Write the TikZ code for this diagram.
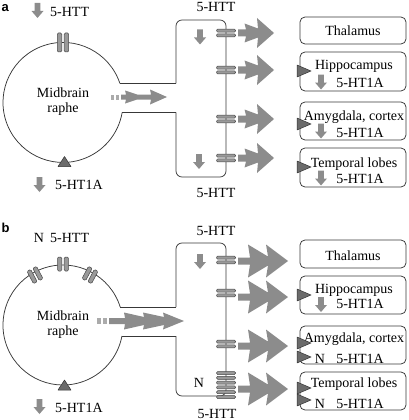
\documentclass[tikz,border=0pt]{standalone}
\usepackage{fontspec}
\setmainfont{Liberation Serif}
\newfontfamily\panelfont{Liberation Sans}
\tikzset{
  memb/.style={draw=black!78, line width=0.75pt},
  region/.style={draw=black!78, line width=0.75pt, rounded corners=5pt, inner sep=0pt},
  txt/.style={font=\fontsize{14}{16}\selectfont, inner sep=0pt, anchor=base},
  txtw/.style={font=\fontsize{14}{16}\selectfont, inner sep=0pt, anchor=base west},
  lbl/.style={font=\panelfont\bfseries\fontsize{13}{15}\selectfont, inner sep=0pt, anchor=base west},
  gfill/.style={fill=black!45, draw=none},
  dfill/.style={fill=black!33, draw=none},
  tbar/.style={fill=black!40, draw=black!72, line width=0.5pt, rounded corners=1.2pt},
  rcpt/.style={fill=black!58, draw=black!80, line width=0.5pt, line join=round},
  dnarrow/.pic={\path[gfill] (-2.8,-7.5) -- (2.8,-7.5) -- (2.8,0.5) -- (6,0.5) -- (0,7.5) -- (-6,0.5) -- (-2.8,0.5) -- cycle;},
  hpair/.pic={\path[tbar] (-9.5,-3.9) rectangle (9.5,-0.9); \path[tbar] (-9.5,0.9) rectangle (9.5,3.9);},
  hbar/.pic={\path[tbar] (-9.5,-1.5) rectangle (9.5,1.5);},
  vpairA/.pic={\path[tbar] (-5.6,-9.5) rectangle (-1.2,9.5); \path[tbar] (1.2,-9.5) rectangle (5.6,9.5);},
  vpairB/.pic={\path[tbar] (-5.4,-7) rectangle (-1.2,7); \path[tbar] (1.2,-7) rectangle (5.4,7);},
  rtri/.pic={\path[rcpt] (0,-6) -- (14,0) -- (0,6) -- cycle;},
  utri/.pic={\path[rcpt] (-6.5,5) -- (0,-5) -- (6.5,5) -- cycle;},
  bigA/.pic={\path[gfill] (0,-3.5) -- (8,-3.5) -- (6.5,-9.5) -- (20,-4.5) -- (19,-15) -- (36,0) -- (19,15) -- (20,4.5) -- (6.5,9.5) -- (8,3.5) -- (0,3.5) -- cycle;},
  bigB/.pic={\path[gfill] (0,-3.5) -- (12,-3.5) -- (10,-16.5) -- (30,-4.5) -- (28,-16.5) -- (50,0) -- (28,16.5) -- (30,4.5) -- (10,16.5) -- (12,3.5) -- (0,3.5) -- cycle;},
}
\begin{document}
\begin{tikzpicture}[x=1pt,y=-1pt]
\useasboundingbox (0,0) rectangle (408,420);

% ================= panel a =================
\node[lbl] (la) at (1.5,12) {a};
\pic at (37.5,10.5) {dnarrow};
\node[txtw] (aHTTtl) at (50,17) {5-HTT};

% raphe neuron membrane
\draw[memb] (119.9,83.4) arc[start angle=18.5, end angle=350.4, radius=60pt];
\draw[memb] (119.9,83.4) -- (176,83.4);
\draw[memb] (122.2,112.4) -- (176,112.4);
\draw[memb, rounded corners=6pt] (176,83.4) -- (176,20) -- (226,20) -- (226,177) -- (176,177) -- (176,112.4);

\pic at (63,42.5) {vpairA};
\pic at (64.5,161.5) {utri};
\node[txt] (aMid) at (63,97) {Midbrain};
\node[txt] (aRap) at (63,112) {raphe};
\pic at (39.5,184.5) {dnarrow};
\node[txtw] (aHT1A) at (55,189) {5-HT1A};

% dashed arrow a
\path[dfill] (111,94.5) rectangle (114,99.5);
\path[dfill] (116,94.5) rectangle (119,99.5);
\path[gfill] (121,94.5) -- (126,94.5) -- (125,90.5) -- (137,94.5) -- (151,94.5) -- (150,89.5) -- (167,97)
  -- (150,104.5) -- (151,99.5) -- (137,99.5) -- (125,103.5) -- (126,99.5) -- (121,99.5) -- cycle;

% terminal box a
\node[txt] (aHTTt) at (216,11.5) {5-HTT};
\node[txt] (aHTTb) at (216,197) {5-HTT};
\pic at (200,37) {dnarrow};
\pic at (199,161.5) {dnarrow};
\foreach \yy in {33,70,119,158} {\pic at (226,\yy) {hpair};}
\foreach \yy in {33,70,119,158} {\pic at (238,\yy) {bigA};}

% target regions a
\node[region, minimum width=106pt, minimum height=27pt] (aThal) at (353,30.5) {};
\node[txt] (aThalT) at (353,36) {Thalamus};
\node[region, minimum width=106pt, minimum height=39pt] (aHip) at (353,71.5) {};
\node[txt] (aHipT) at (354,70) {Hippocampus};
\pic at (321,82) {dnarrow};
\node[txt] (aHipR) at (360,87) {5-HT1A};
\pic at (297,71) {rtri};
\node[region, minimum width=106pt, minimum height=38pt] (aAmy) at (353,121) {};
\node[txt] (aAmyT) at (354,120) {Amygdala, cortex};
\pic at (321,131) {dnarrow};
\node[txt] (aAmyR) at (360,137) {5-HT1A};
\pic at (297,124) {rtri};
\node[region, minimum width=106pt, minimum height=39pt] (aTem) at (353,167.5) {};
\node[txt] (aTemT) at (354,167) {Temporal lobes};
\pic at (321,178) {dnarrow};
\node[txt] (aTemR) at (360,183) {5-HT1A};
\pic at (297,167) {rtri};

% ================= panel b =================
\node[lbl] (lb) at (1.5,232) {b};
\node[txt] (bN1) at (39,242) {N};
\node[txtw] (bHTTtl) at (50,242) {5-HTT};

\draw[memb] (120.2,307) arc[start angle=17.46, end angle=349.44, radius=60pt];
\draw[memb] (120.2,307) -- (176,307);
\draw[memb] (122,336) -- (176,336);
\draw[memb, rounded corners=6pt] (176,307) -- (176,243) -- (226,243) -- (226,396) -- (176,396) -- (176,336);

\pic at (63,264) {vpairB};
\pic[rotate=28] at (35,275) {vpairB};
\pic[rotate=-28] at (90,275) {vpairB};
\pic at (64.5,385) {utri};
\node[txt] (bMid) at (63,320) {Midbrain};
\node[txt] (bRap) at (63,335) {raphe};
\pic at (39.5,406.5) {dnarrow};
\node[txtw] (bHT1A) at (55,412) {5-HT1A};

% dashed arrow b
\path[dfill] (97,318) rectangle (101,324);
\path[dfill] (103,318) rectangle (107,324);
\path[gfill] (109,318) -- (125,318) -- (124,312.5) -- (144,317) -- (143,312.5) -- (164,317) -- (163,312.5) -- (184,321)
  -- (163,329.5) -- (164,325) -- (143,329.5) -- (144,325) -- (124,329.5) -- (125,324) -- (109,324) -- cycle;

% terminal box b
\node[txt] (bHTTt) at (216,235) {5-HTT};
\node[txt] (bHTTb) at (217,418) {5-HTT};
\pic at (200,261.5) {dnarrow};
\node[txt] (bN2) at (199,387) {N};
\foreach \yy in {260,293,344} {\pic at (226,\yy) {hpair};}
\foreach \k in {0,...,5} {\pic at (226,373+4.8*\k) {hbar};}
\foreach \yy in {261,297,346,389} {\pic at (238,\yy) {bigB};}

% target regions b
\node[region, minimum width=106pt, minimum height=28pt] (bThal) at (353,254) {};
\node[txt] (bThalT) at (353,260) {Thalamus};
\node[region, minimum width=106pt, minimum height=38pt] (bHip) at (353,295) {};
\node[txt] (bHipT) at (354,293) {Hippocampus};
\pic at (321,304.5) {dnarrow};
\node[txt] (bHipR) at (360,308) {5-HT1A};
\pic at (297,295) {rtri};
\node[region, minimum width=106pt, minimum height=38pt] (bAmy) at (353,345) {};
\node[txt] (bAmyT) at (354,342) {Amygdala, cortex};
\node[txt] (bAmyN) at (320,363) {N};
\node[txt] (bAmyR) at (360,363) {5-HT1A};
\pic at (297,343) {rtri};
\pic at (297,357) {rtri};
\node[region, minimum width=106pt, minimum height=38pt] (bTem) at (353,391) {};
\node[txt] (bTemT) at (354,387) {Temporal lobes};
\node[txt] (bTemN) at (320,408) {N};
\node[txt] (bTemR) at (360,408) {5-HT1A};
\pic at (297,388) {rtri};
\pic at (297,400) {rtri};
\end{tikzpicture}
\end{document}
